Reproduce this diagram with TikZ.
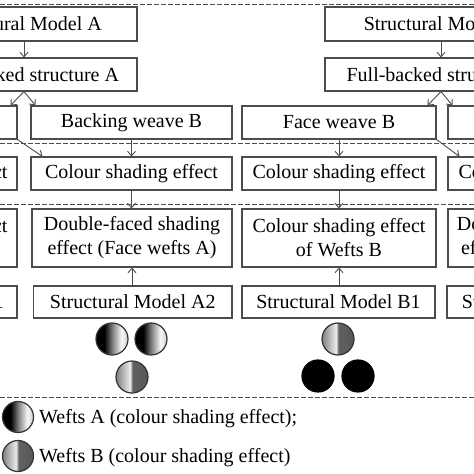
\documentclass[tikz,border=0pt]{standalone}
\usepackage{fontspec}
\setmainfont{Liberation Serif}
\usetikzlibrary{arrows.meta}
\colorlet{wA0}{black}
\colorlet{wA1}{black!45}
\colorlet{wA2}{black!3}
\colorlet{wA3}{black!20}
\colorlet{wB0}{black!50}
\colorlet{wB1}{black!8}
\colorlet{wB2}{black!62}
\colorlet{wB3}{black!66}
\pgfdeclarehorizontalshading{weftA}{100bp}{color(0bp)=(wA0); color(25bp)=(wA0); color(38bp)=(wA0); color(52bp)=(wA1); color(65bp)=(wA2); color(75bp)=(wA3); color(100bp)=(wA3)}
\pgfdeclarehorizontalshading{weftB}{100bp}{color(0bp)=(wB0); color(25bp)=(wB0); color(47bp)=(wB1); color(51bp)=(wB2); color(75bp)=(wB3); color(100bp)=(wB3)}
\begin{document}
\begin{tikzpicture}[x=1pt,y=-1pt,
  box/.style={draw=black!70, line width=1.1pt, inner sep=0pt, align=center, text=black, font=\fontsize{20}{24}\selectfont},
  arr/.style={draw=black!70, line width=0.9pt, -{Straight Barb[length=4.5pt,width=8pt]}},
  sep/.style={draw=black!70, line width=0.9pt, dash pattern=on 4.5pt off 2.5pt},
  weftAstyle/.style={circle, inner sep=0pt, minimum size=32pt, draw=black!80, line width=1.2pt, shade, shading=weftA},
  weftBstyle/.style={circle, inner sep=0pt, minimum size=32pt, draw=black!80, line width=1.2pt, shade, shading=weftB},
  weftK/.style={circle, inner sep=0pt, minimum size=32pt, draw=black, line width=1.2pt, fill=black},
  lab/.style={anchor=base west, inner sep=0pt, text=black, font=\fontsize{20}{24}\selectfont}]
\useasboundingbox (0,0) rectangle (474,474);
\fill[white] (0,0) rectangle (474,474);
\clip (0,0) rectangle (474,474);

% separators
\coordinate (s1l) at (0,4);   \coordinate (s1r) at (474,4);
\coordinate (s2l) at (0,143); \coordinate (s2r) at (474,143);
\coordinate (s3l) at (0,204); \coordinate (s3r) at (474,204);
\coordinate (s4l) at (0,397); \coordinate (s4r) at (474,397);
\draw[sep] (s1l) -- (s1r);
\draw[sep] (s2l) -- (s2r);
\draw[sep] (s3l) -- (s3r);
\draw[sep] (s4l) -- (s4r);

% left half (model A)
\node[box, minimum width=226pt, minimum height=34pt] (smA) at (24,24) {Structural Model A};
\node[box, minimum width=226pt, minimum height=33pt] (fbA) at (24,74.5) {Full-backed structure A};
\node[box, minimum width=192pt, minimum height=33pt] (fwA) at (-79,122.5) {};
\node[box, minimum width=201pt, minimum height=33pt] (bwB) at (131.5,122.5) {Backing weave B};
\node[box, minimum width=192pt, minimum height=33pt] (csA1) at (-79,173.5) {Colour shading effect};
\node[box, minimum width=201pt, minimum height=33pt] (csA2) at (131.5,173.5) {Colour shading effect};
\node[box, minimum width=192pt, minimum height=58pt] (efA1) at (-79,238) {Colour shading effect\\\phantom{of Wefts A}};
\node[box, minimum width=200pt, minimum height=58pt] (efA2) at (132,238) {Double-faced shading\\effect (Face wefts A)};
\node[box, minimum width=192pt, minimum height=32pt] (mA1) at (-79,302) {Structural Model A1};
\node[box, minimum width=198.5pt, minimum height=32pt] (mA2) at (132.75,302) {Structural Model A2};

% right half (model B)
\node[box, minimum width=232pt, minimum height=34pt] (smB) at (441,24) {Structural Model B};
\node[box, minimum width=232pt, minimum height=33pt] (fbB) at (441,74.5) {Full-backed structure B};
\node[box, minimum width=194pt, minimum height=33pt] (fwB) at (339,122.5) {Face weave B};
\node[box, minimum width=194pt, minimum height=33pt] (bwA) at (545,122.5) {};
\node[box, minimum width=194pt, minimum height=33pt] (csB1) at (339,173.5) {Colour shading effect};
\node[box, minimum width=194pt, minimum height=33pt] (csB2) at (545,173.5) {Colour shading effect};
\node[box, minimum width=194pt, minimum height=58pt] (efB1) at (339,238) {Colour shading effect\\of Wefts B};
\node[box, minimum width=194pt, minimum height=58pt] (efB2) at (545,238) {Double-faced shading\\effect (Face wefts B)};
\node[box, minimum width=193pt, minimum height=32pt] (mB1) at (338.5,302) {Structural Model B1};
\node[box, minimum width=194pt, minimum height=32pt] (mB2) at (544,302) {Structural Model B2};

% connectors A
\draw[arr] (smA) -- (fbA);
\draw[arr] (fbA.south) -- ([xshift=-7pt]fwA.north east);
\draw[arr] (fbA.south) -- ([xshift=5pt]bwB.north west);
\draw[arr] (bwB) -- (csA2);
\draw[arr] (fwA.south east) -- ([xshift=12pt]csA2.north west);
\draw[arr] (csA2.south) -- (csA2.south |- efA2.north);
\draw[arr] (efA2.south |- mA2.north) -- (efA2.south);

% connectors B
\draw[arr] (smB) -- (fbB);
\draw[arr] (fbB.south) -- ([xshift=-9pt]fwB.north east);
\draw[arr] (fbB.south) -- ([xshift=5pt]bwA.north west);
\draw[arr] (fwB) -- (csB1);
\draw[arr] (fwB.south east) -- ([xshift=12pt]csB2.north west);
\draw[arr] (csB1) -- (efB1);
\draw[arr] (efB1.south |- mB1.north) -- (efB1.south);

% weft cross sections
\node[weftAstyle] (a1) at (112,339) {};
\node[weftAstyle] (a2) at (151,339) {};
\node[weftBstyle] (a3) at (132,377) {};
\node[weftBstyle] (b1) at (338,339) {};
\node[weftK] (b2) at (318,376) {};
\node[weftK] (b3) at (358,376) {};

% legend
\node[weftAstyle, minimum size=31pt] (legA) at (18,417) {};
\node[weftBstyle, minimum size=31pt] (legB) at (18,456) {};
\node[lab] (labA) at (39,423) {Wefts A (colour shading effect);};
\node[lab] (labB) at (39,462) {Wefts B (colour shading effect)};
\end{tikzpicture}
\end{document}
